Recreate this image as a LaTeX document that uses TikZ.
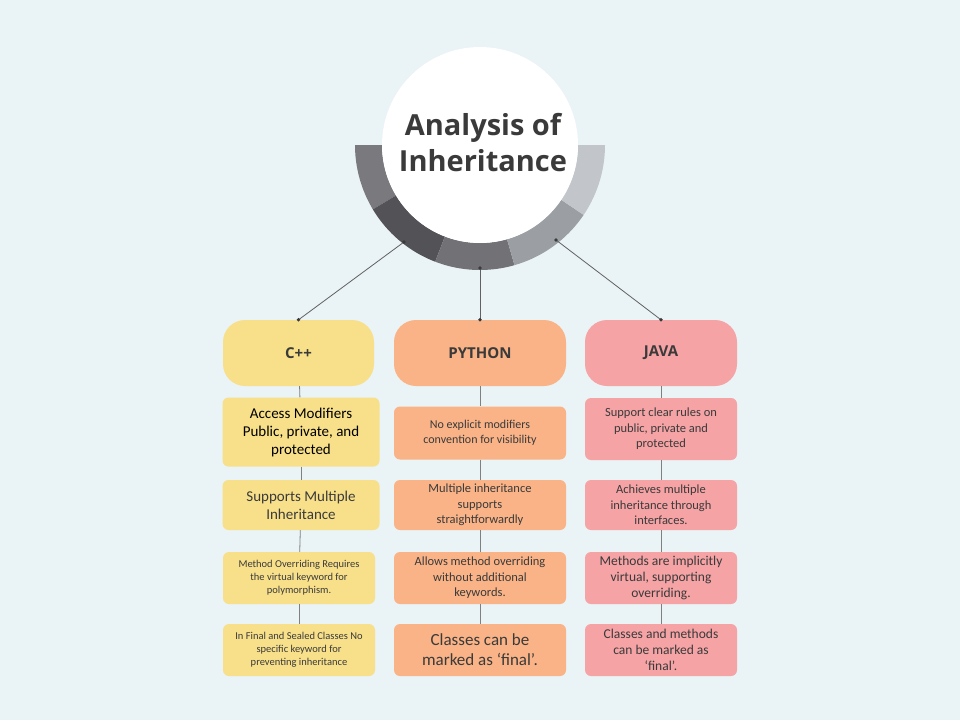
\documentclass[tikz,border=0pt]{standalone}
\usepackage{fontspec}
\setmainfont{Carlito}
\newfontfamily\titlefont{Open Sans}
\definecolor{bg}{HTML}{EAF3F5}
\definecolor{yel}{HTML}{F8E08A}
\definecolor{ora}{HTML}{F9B387}
\definecolor{pin}{HTML}{F5A3A5}
\definecolor{txt}{HTML}{3A3A3A}
\tikzset{
 box/.style={rounded corners=6pt,minimum width=#1, align=center, text=txt, inner sep=2pt},
 hdr/.style={rounded corners=22pt, text=txt, font=\titlefont\bfseries\fontsize{15}{18}\selectfont},
 link/.style={draw=txt!80, line width=0.8pt},
 dot/.style={circle, fill=txt, inner sep=1.3pt},
}
\begin{document}
\begin{tikzpicture}[x=1pt,y=-1pt]
\useasboundingbox (0,0) rectangle (960,720);
\fill[bg] (0,0) rectangle (960,720);
% ring (y down: angle a measured with sin going downward)
\def\cx{480}\def\cy{145}
\foreach \a/\b/\c in {180/149/7A7A7E,149/111/525257,111/74/727276,74/34/9B9FA3,34/0/C2C6CA}{
 \definecolor{seg}{HTML}{\c}
 \fill[seg] plot[domain=\a:\b, samples=20] ({\cx+125*cos(\x)},{\cy+125*sin(\x)}) -- plot[domain=\b:\a, samples=20] ({\cx+98*cos(\x)},{\cy+98*sin(\x)}) -- cycle;
}
\node[circle, fill=white, minimum size=196pt, inner sep=0pt] (c) at (\cx,\cy) {};
\node[font=\titlefont\bfseries\fontsize{29}{36}\selectfont, text=txt, align=center] (t) at (483,143) {Analysis of\\Inheritance};
\coordinate (pl) at (404,242);
\coordinate (pm) at (480,268);
\coordinate (pr) at (556,240);
% headers
\node[hdr, fill=yel, minimum width=151pt, minimum height=66pt] (h1) at (298.5,353) {C++};
\node[hdr, fill=ora, minimum width=172pt, minimum height=66pt] (h2) at (480,353) {PYTHON};
\node[hdr, fill=pin, minimum width=152pt, minimum height=66pt] (h3) at (661,353) {JAVA};
\draw[link] (pl) -- (h1.north) node[dot]{}; \node[dot] at (pl){};
\draw[link] (pm) -- (h2.north) node[dot]{}; \node[dot] at (pm){};
\draw[link] (pr) -- (h3.north) node[dot]{}; \node[dot] at (pr){};
% C++ column
\begin{scope}[every node/.append style={fill=yel}]
\node[box=157pt, minimum height=69pt, font=\fontsize{15}{18}\selectfont, text=black] (a1) at (301,432) {Access Modifiers\\Public, private, and\\protected};
\node[box=157pt, minimum height=50pt, font=\fontsize{15}{18}\selectfont] (a2) at (301,505) {Supports Multiple\\Inheritance};
\node[box=152pt, minimum height=52pt, font=\fontsize{10.5}{13}\selectfont] (a3) at (299,578) {Method Overriding Requires\\the virtual keyword for\\polymorphism.};
\node[box=152pt, minimum height=52pt, font=\fontsize{10.5}{13}\selectfont] (a4) at (299,650) {In Final and Sealed Classes No\\specific keyword for\\preventing inheritance};
\end{scope}
\begin{scope}[every node/.append style={fill=ora}]
\node[box=172pt, minimum height=53pt, font=\fontsize{12}{15}\selectfont] (b1) at (480,433) {No explicit modifiers\\convention for visibility};
\node[box=172pt, minimum height=50pt, font=\fontsize{12.5}{15.5}\selectfont] (b2) at (480,505) {Multiple inheritance\\supports\\straightforwardly};
\node[box=172pt, minimum height=52pt, font=\fontsize{12.5}{15.5}\selectfont] (b3) at (480,578) {Allows method overriding\\without additional\\keywords.};
\node[box=172pt, minimum height=52pt, font=\fontsize{17}{20}\selectfont] (b4) at (480,650) {Classes can be\\marked as ‘final’.};
\end{scope}
\begin{scope}[every node/.append style={fill=pin}]
\node[box=152pt, minimum height=62pt, font=\fontsize{12.5}{15.5}\selectfont] (c1) at (661,429) {Support clear rules on\\public, private and\\protected};
\node[box=152pt, minimum height=50pt, font=\fontsize{12.5}{15.5}\selectfont] (c2) at (661,505) {Achieves multiple\\inheritance through\\interfaces.};
\node[box=152pt, minimum height=52pt, font=\fontsize{13.5}{16}\selectfont] (c3) at (661,578) {Methods are implicitly\\virtual, supporting\\overriding.};
\node[box=152pt, minimum height=52pt, font=\fontsize{13.5}{16}\selectfont] (c4) at (661,650) {Classes and methods\\can be marked as\\‘final’.};
\end{scope}
\foreach \u/\v in {h1/a1,a1/a2,a2/a3,a3/a4,h2/b1,b1/b2,b2/b3,b3/b4,h3/c1,c1/c2,c2/c3,c3/c4}
 \draw[link, draw=gray] (\u) -- (\v);
\end{tikzpicture}
\end{document}
